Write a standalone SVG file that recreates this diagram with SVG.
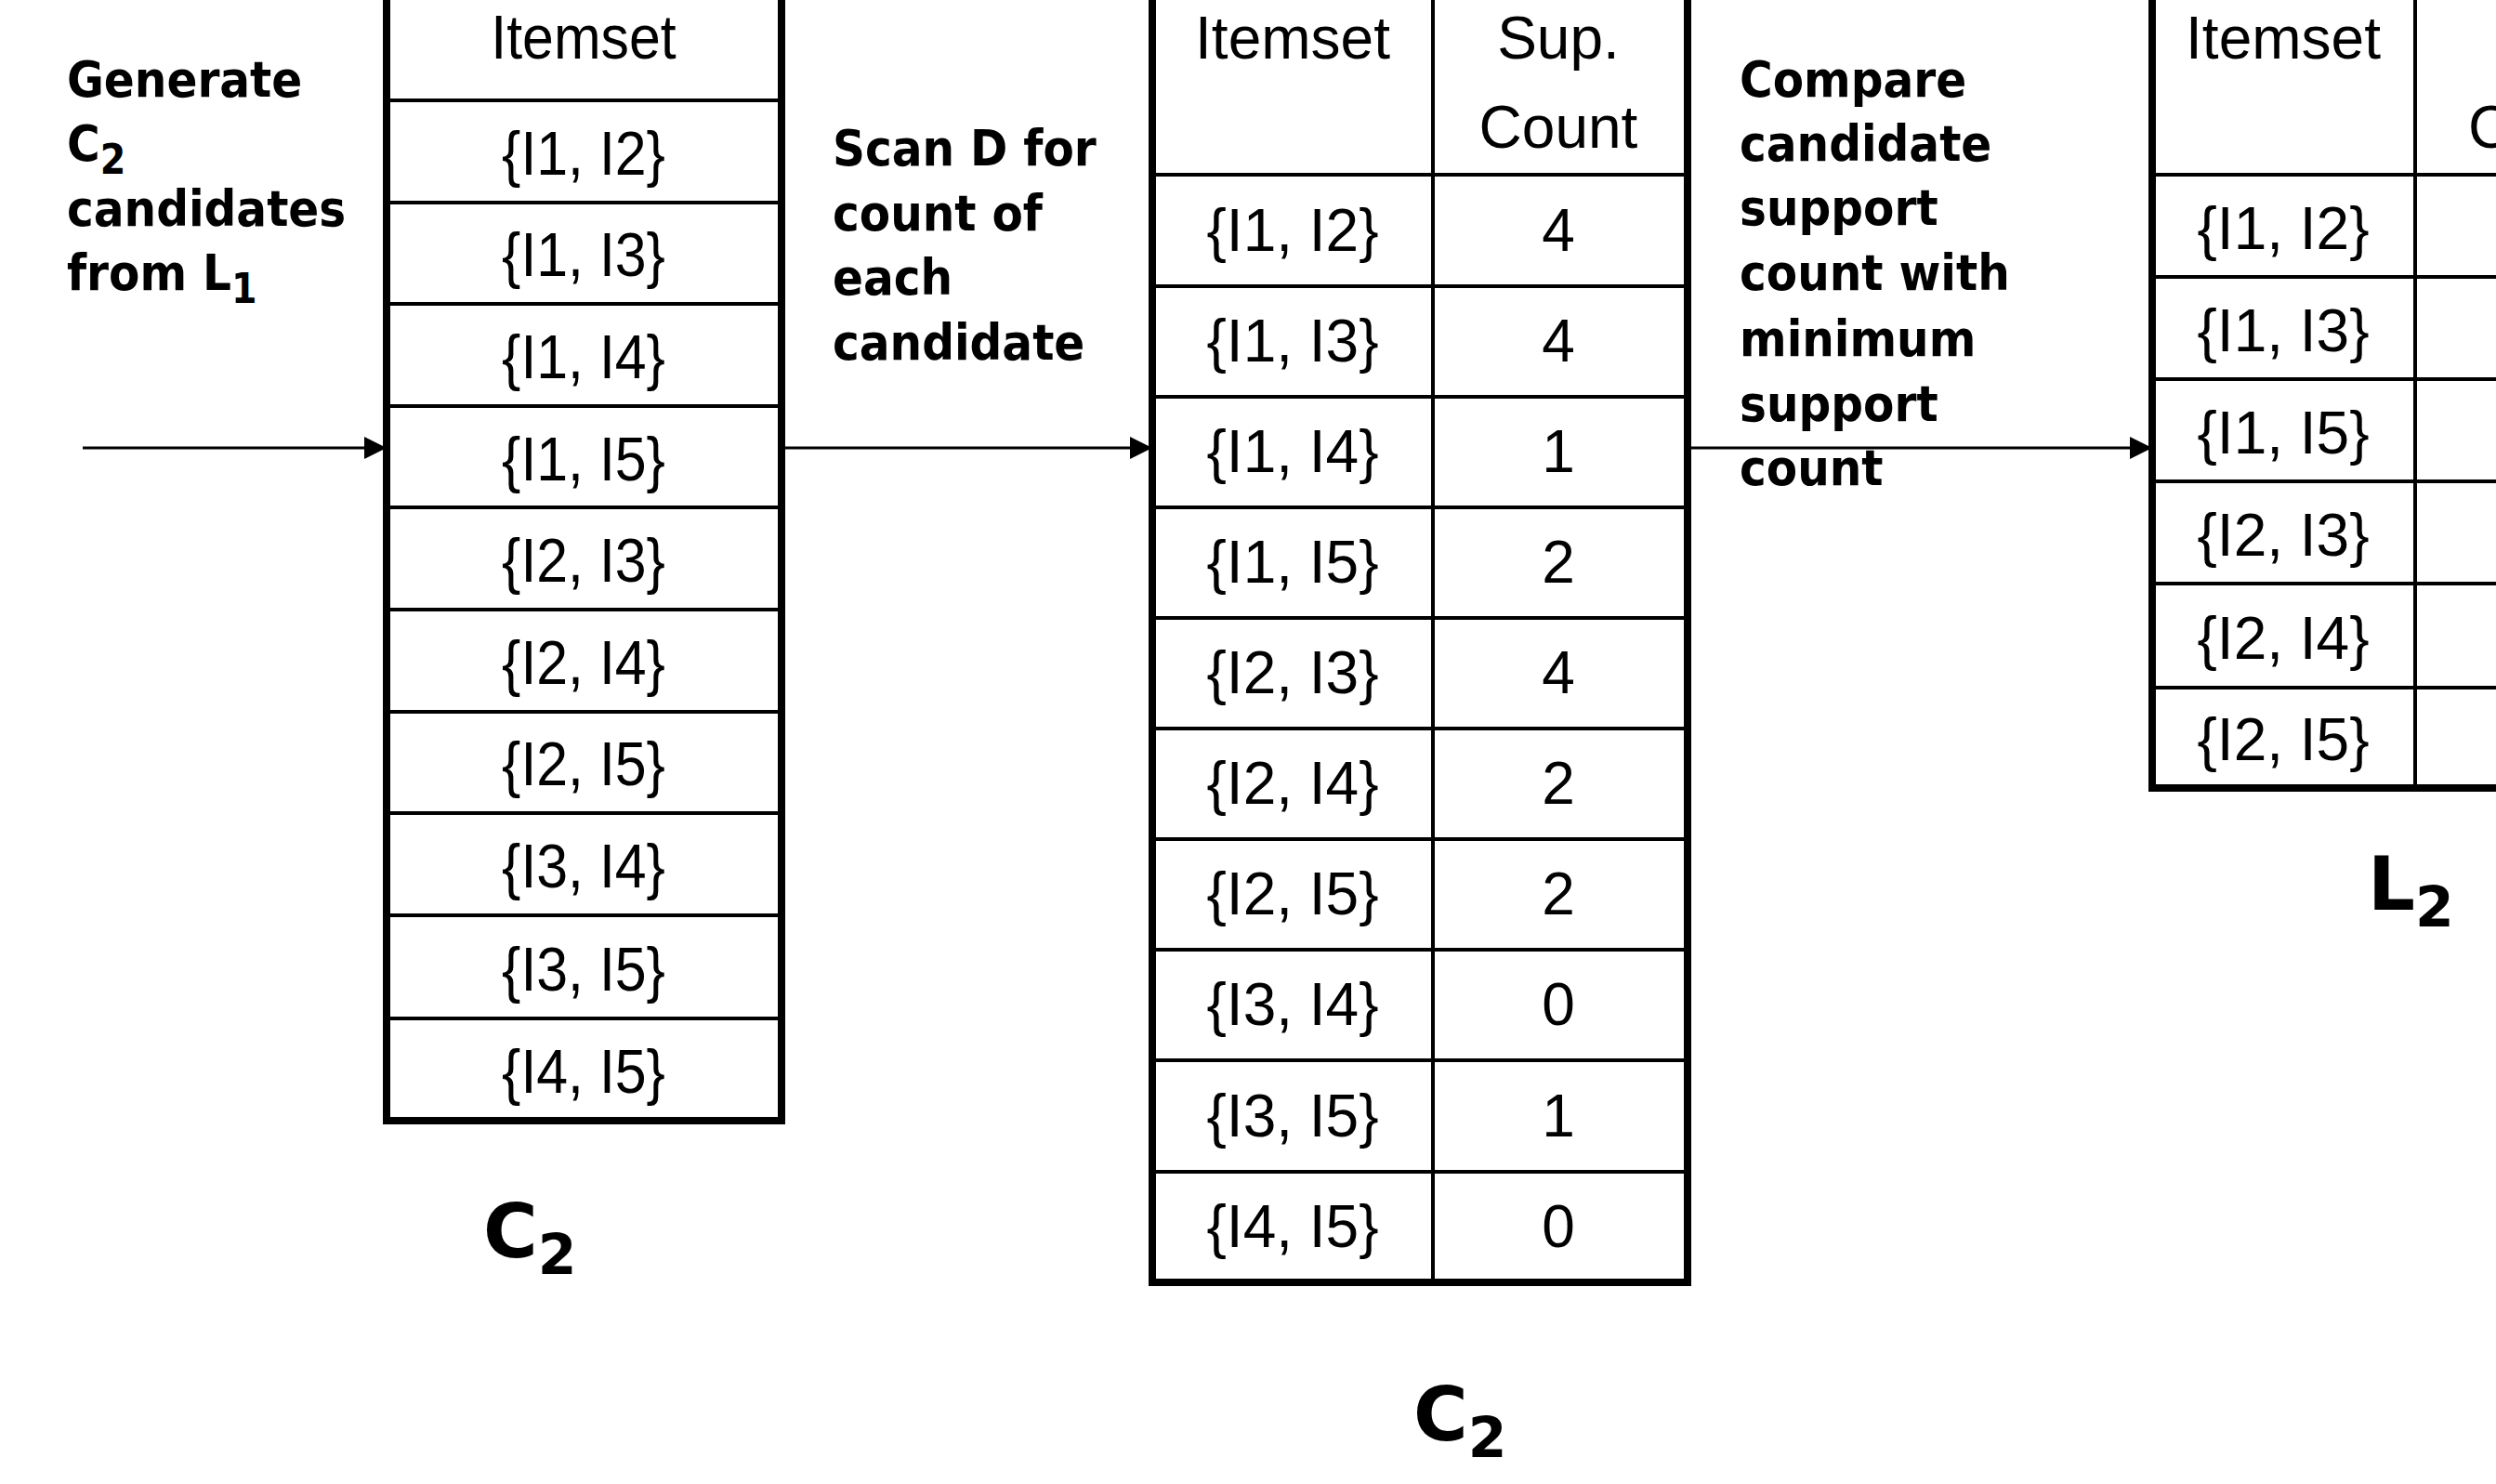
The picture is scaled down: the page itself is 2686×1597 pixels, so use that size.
<svg xmlns="http://www.w3.org/2000/svg" width="2686" height="1597" viewBox="0 0 2686 1597">
<defs>
<style>
.cell{font-family:"Liberation Sans",Arial,sans-serif;font-size:64px;text-anchor:middle;fill:#000}
.lbl{font-family:"DejaVu Sans Condensed","DejaVu Sans",sans-serif;font-stretch:condensed;font-weight:bold;font-size:54px;fill:#000}
.big{font-family:"DejaVu Sans","DejaVu Sans Condensed",sans-serif;font-weight:bold;font-size:80px;fill:#000}
.sub{font-size:44px}
.bsub{font-size:60px}
.outer{fill:#fff;stroke:#000;stroke-width:8}
.in{stroke:#000;stroke-width:4;fill:none}
.con{stroke:#000;stroke-width:3;fill:none}
</style>
</defs>
<rect width="2686" height="1597" fill="#fff"/>
<g id="connectors">
<path class="con" d="M89,482 H392"/><path d="M392,470 L416,482 L392,494 z"/>
<path class="con" d="M845,482 H1216"/><path d="M1216,470 L1240,482 L1216,494 z"/>
<path class="con" d="M1820,482 H2292"/><path d="M2292,470 L2316,482 L2292,494 z"/>
</g>
<g id="label-generate">
<text class="lbl" x="72" y="104">Generate</text>
<text class="lbl" x="72" y="173">C<tspan class="sub" dy="14">2</tspan></text>
<text class="lbl" x="72" y="243">candidates</text>
<text class="lbl" x="72" y="312">from L<tspan class="sub" dy="14">1</tspan></text>
</g>
<g id="label-scan">
<text class="lbl" x="896" y="178">Scan D for</text>
<text class="lbl" x="896" y="248">count of</text>
<text class="lbl" x="896" y="317">each</text>
<text class="lbl" x="896" y="387">candidate</text>
</g>
<g id="label-compare">
<text class="lbl" x="1872" y="104">Compare</text>
<text class="lbl" x="1872" y="173">candidate</text>
<text class="lbl" x="1872" y="242">support</text>
<text class="lbl" x="1872" y="312">count with</text>
<text class="lbl" x="1872" y="383">minimum</text>
<text class="lbl" x="1872" y="453">support</text>
<text class="lbl" x="1872" y="522">count</text>
</g>
<g id="table-c2-left">
<rect class="outer" x="416" y="-10" width="425" height="1216"/>
<path class="in" d="M416,108H841M416,218H841M416,327H841M416,437H841M416,546H841M416,656H841M416,766H841M416,875H841M416,985H841M416,1096H841"/>
<g class="cell" transform="translate(628,0) scale(0.95,1.05)">
<text x="0" y="60">Itemset</text>
<text x="0" y="179">{I1, I2}</text>
<text x="0" y="283">{I1, I3}</text>
<text x="0" y="388">{I1, I4}</text>
<text x="0" y="492">{I1, I5}</text>
<text x="0" y="596">{I2, I3}</text>
<text x="0" y="701">{I2, I4}</text>
<text x="0" y="805">{I2, I5}</text>
<text x="0" y="910">{I3, I4}</text>
<text x="0" y="1015">{I3, I5}</text>
<text x="0" y="1120">{I4, I5}</text>
</g>
<text class="big" x="520" y="1353">C<tspan class="bsub" dy="18">2</tspan></text>
</g>
<g id="table-c2-count">
<rect class="outer" x="1240" y="-10" width="576" height="1390"/>
<path class="in" d="M1542,-10V1380M1240,188H1816M1240,308H1816M1240,427H1816M1240,546H1816M1240,665H1816M1240,784H1816M1240,903H1816M1240,1022H1816M1240,1141H1816M1240,1261H1816"/>
<text class="cell" x="1391" y="63">Itemset</text>
<text class="cell" x="1677" y="63">Sup.</text>
<text class="cell" x="1677" y="159">Count</text>
<text class="cell" x="1391" y="270">{I1, I2}</text><text class="cell" x="1677" y="270">4</text>
<text class="cell" x="1391" y="389">{I1, I3}</text><text class="cell" x="1677" y="389">4</text>
<text class="cell" x="1391" y="508">{I1, I4}</text><text class="cell" x="1677" y="508">1</text>
<text class="cell" x="1391" y="627">{I1, I5}</text><text class="cell" x="1677" y="627">2</text>
<text class="cell" x="1391" y="746">{I2, I3}</text><text class="cell" x="1677" y="746">4</text>
<text class="cell" x="1391" y="865">{I2, I4}</text><text class="cell" x="1677" y="865">2</text>
<text class="cell" x="1391" y="984">{I2, I5}</text><text class="cell" x="1677" y="984">2</text>
<text class="cell" x="1391" y="1103">{I3, I4}</text><text class="cell" x="1677" y="1103">0</text>
<text class="cell" x="1391" y="1223">{I3, I5}</text><text class="cell" x="1677" y="1223">1</text>
<text class="cell" x="1391" y="1342">{I4, I5}</text><text class="cell" x="1677" y="1342">0</text>
<text class="big" x="1521" y="1550">C<tspan class="bsub" dy="18">2</tspan></text>
</g>
<g id="table-l2">
<rect class="outer" x="2316" y="-10" width="500" height="858"/>
<path class="in" d="M2599,-10V848M2316,188H2700M2316,298H2700M2316,408H2700M2316,518H2700M2316,628H2700M2316,740H2700"/>
<text class="cell" x="2457" y="63">Itemset</text>
<text class="cell" x="2656" y="159" style="text-anchor:start">Count</text>
<text class="cell" x="2457" y="268">{I1, I2}</text>
<text class="cell" x="2457" y="378">{I1, I3}</text>
<text class="cell" x="2457" y="488">{I1, I5}</text>
<text class="cell" x="2457" y="598">{I2, I3}</text>
<text class="cell" x="2457" y="709">{I2, I4}</text>
<text class="cell" x="2457" y="818">{I2, I5}</text>
<text class="big" x="2548" y="979">L<tspan class="bsub" dy="18">2</tspan></text>
</g>
</svg>
